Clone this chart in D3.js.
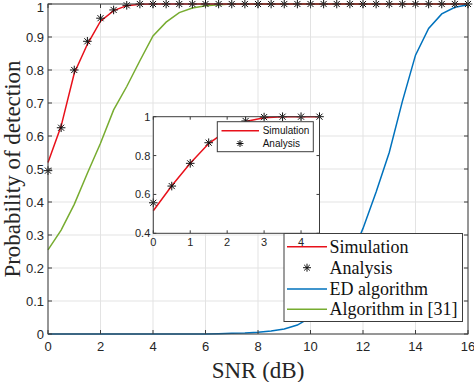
<!DOCTYPE html>
<html>
<head>
<meta charset="utf-8">
<script src="https://cdn.jsdelivr.net/npm/d3@7"></script>
<style>
  body { margin: 0; background: #fff; }
  svg { display: block; }
</style>
</head>
<body>
<svg id="chart" width="474" height="382"></svg>
<script>
// SNR grid (dB), step 0.5 from 0 to 16
const snr = d3.range(0, 16.01, 0.5);

// Simulation (red) on the main axes
const simValues = [0.52, 0.63, 0.79, 0.878, 0.948, 0.98, 0.995, 0.999, 1, 1, 1, 1, 1, 1, 1, 1, 1,
  1, 1, 1, 1, 1, 1, 1, 1, 1, 1, 1, 1, 1, 1, 1, 1];
// Analysis (stars) on the main axes
const anaValues = [0.495, 0.625, 0.8, 0.887, 0.957, 0.982, 0.996, 1, 1, 1, 1, 1, 1, 1, 1, 1, 1,
  1, 1, 1, 1, 1, 1, 1, 1, 1, 1, 1, 1, 1, 1, 1, 1];
// ED algorithm (blue)
const edValues = [0, 0, 0, 0, 0, 0, 0, 0, 0, 0, 0, 0, 0, 0.001, 0.002, 0.003, 0.005,
  0.009, 0.015, 0.027, 0.05, 0.09, 0.15, 0.225, 0.32, 0.43, 0.55, 0.705, 0.845, 0.926, 0.97, 0.99, 0.998];
// Algorithm in [31] (green)
const refValues = [0.255, 0.315, 0.393, 0.487, 0.578, 0.679, 0.75, 0.828, 0.903, 0.945, 0.974, 0.988, 0.995, 0.998, 1, 1, 1,
  1, 1, 1, 1, 1, 1, 1, 1, 1, 1, 1, 1, 1, 1, 1, 1];

// inset (zoom on 0..4.5 dB)
const insetSnr = [0, 0.5, 1, 1.5, 2, 2.5, 3, 3.5, 4, 4.5];
const insetSim = [0.516, 0.645, 0.76, 0.862, 0.93, 0.975, 0.995, 1, 1, 1];
const insetAna = [0.557, 0.643, 0.76, 0.866, 0.935, 0.978, 0.998, 1, 1, 1];

const xTicks = [0, 2, 4, 6, 8, 10, 12, 14, 16];
const yTicks = d3.range(0, 1.001, 0.1);
const insetXTicks = [0, 1, 2, 3, 4];
const insetYTicks = [0.4, 0.6, 0.8, 1];

const legendLabels = ["Simulation", "Analysis", "ED algorithm", "Algorithm in [31]"];
const colors = { sim: "#e8101a", ed: "#0072bd", ref: "#77ac30" };
const axisColor = "#3c3c3c";

const svg = d3.select("#chart");

function starPath(r) {
  const d = r * Math.SQRT1_2;
  return `M${-r},0L${r},0M0,${-r}L0,${r}M${-d},${-d}L${d},${d}M${-d},${d}L${d},${-d}`;
}

function drawGrid(g, x, y, xt, yt) {
  const [x0, x1] = x.range();
  const [y0, y1] = y.range();
  g.append("g").selectAll("line").data(xt).join("line")
    .attr("x1", d => x(d)).attr("x2", d => x(d))
    .attr("y1", y0).attr("y2", y1)
    .attr("stroke", "#e3e3e3").attr("stroke-width", 1);
  g.append("g").selectAll("line").data(yt).join("line")
    .attr("x1", x0).attr("x2", x1)
    .attr("y1", d => y(d)).attr("y2", d => y(d))
    .attr("stroke", "#e3e3e3").attr("stroke-width", 1);
}

function drawFrame(g, x, y, xt, yt, fmtY, fontSize, tickLen, labelGap, xLabelDy, minLabelY) {
  const [x0, x1] = x.range();
  const [y0, y1] = y.range();
  const ticks = g.append("g").attr("stroke", axisColor).attr("stroke-width", 1);
  xt.forEach(t => {
    ticks.append("line").attr("x1", x(t)).attr("x2", x(t)).attr("y1", y0).attr("y2", y0 - tickLen);
    ticks.append("line").attr("x1", x(t)).attr("x2", x(t)).attr("y1", y1).attr("y2", y1 + tickLen);
  });
  yt.forEach(t => {
    ticks.append("line").attr("x1", x0).attr("x2", x0 + tickLen).attr("y1", y(t)).attr("y2", y(t));
    ticks.append("line").attr("x1", x1).attr("x2", x1 - tickLen).attr("y1", y(t)).attr("y2", y(t));
  });
  g.append("rect")
    .attr("x", x0).attr("y", y1).attr("width", x1 - x0).attr("height", y0 - y1)
    .attr("fill", "none").attr("stroke", axisColor).attr("stroke-width", 1);
  g.append("g").selectAll("text").data(xt).join("text")
    .attr("x", d => x(d)).attr("y", y0 + xLabelDy)
    .attr("text-anchor", "middle")
    .attr("font-family", "Liberation Sans, Arial, sans-serif")
    .attr("font-size", fontSize).attr("fill", "#262626")
    .text(d => d);
  g.append("g").selectAll("text").data(yt).join("text")
    .attr("x", x0 - labelGap).attr("y", d => Math.max(y(d), minLabelY || 0))
    .attr("dy", "0.36em")
    .attr("text-anchor", "end")
    .attr("font-family", "Liberation Sans, Arial, sans-serif")
    .attr("font-size", fontSize).attr("fill", "#262626")
    .text(fmtY);
}

const fmt = d => +d.toFixed(1) + "";

// ---------- main axes ----------
const x = d3.scaleLinear().domain([0, 16]).range([48, 468]);
const y = d3.scaleLinear().domain([0, 1]).range([334, 4]);
const main = svg.append("g");
drawGrid(main, x, y, xTicks, yTicks);

const line = d3.line().x(d => x(d[0])).y(d => y(d[1]));
main.append("path").datum(d3.zip(snr, refValues)).attr("d", line)
  .attr("fill", "none").attr("stroke", colors.ref).attr("stroke-width", 1.5);
main.append("path").datum(d3.zip(snr, edValues)).attr("d", line)
  .attr("fill", "none").attr("stroke", colors.ed).attr("stroke-width", 1.5);
main.append("path").datum(d3.zip(snr, simValues)).attr("d", line)
  .attr("fill", "none").attr("stroke", colors.sim).attr("stroke-width", 1.5);
main.append("g").selectAll("path").data(d3.zip(snr, anaValues)).join("path")
  .attr("transform", d => `translate(${x(d[0])},${y(d[1])})`)
  .attr("d", starPath(4.3))
  .attr("stroke", "#111").attr("stroke-width", 1).attr("fill", "none");

// keep the top "1" label just inside the picture
drawFrame(main, x, y, xTicks, yTicks, fmt, 13, 4, 4, 17, 7.5);

// axis titles
svg.append("text")
  .attr("x", 258).attr("y", 378)
  .attr("text-anchor", "middle")
  .attr("font-family", "Liberation Serif, Times New Roman, serif")
  .attr("font-size", 23).attr("fill", "#262626")
  .text("SNR (dB)");
svg.append("text")
  .attr("transform", "translate(20,169) rotate(-90)")
  .attr("text-anchor", "middle")
  .attr("font-family", "Liberation Serif, Times New Roman, serif")
  .attr("font-size", 23).attr("fill", "#262626")
  .text("Probability of detection");

// ---------- main legend ----------
const leg = svg.append("g");
leg.append("rect").attr("x", 284).attr("y", 233.5).attr("width", 178.5).attr("height", 88)
  .attr("fill", "#fff").attr("stroke", axisColor).attr("stroke-width", 1);
const legY = [246.7, 267.7, 289, 309.3];
const legStroke = [colors.sim, null, colors.ed, colors.ref];
legendLabels.forEach((lab, i) => {
  if (legStroke[i]) {
    leg.append("line").attr("x1", 287).attr("x2", 327).attr("y1", legY[i]).attr("y2", legY[i])
      .attr("stroke", legStroke[i]).attr("stroke-width", 1.5);
  } else {
    leg.append("path").attr("transform", `translate(307,${legY[i]})`).attr("d", starPath(4))
      .attr("stroke", "#111").attr("stroke-width", 1).attr("fill", "none");
  }
  leg.append("text").attr("x", 329.5).attr("y", legY[i]).attr("dy", "0.33em")
    .attr("font-family", "Liberation Serif, Times New Roman, serif")
    .attr("font-size", 18).attr("fill", "#111")
    .text(lab);
});

// ---------- inset ----------
const xi = d3.scaleLinear().domain([0, 4.5]).range([153.3, 319.5]);
const yi = d3.scaleLinear().domain([0.4, 1]).range([233.3, 116.7]);
const inset = svg.append("g");
inset.append("rect").attr("x", 153.3).attr("y", 116.7).attr("width", 166.2).attr("height", 116.6)
  .attr("fill", "#fff");
const lineI = d3.line().x(d => xi(d[0])).y(d => yi(d[1]));
inset.append("path").datum(d3.zip(insetSnr, insetSim)).attr("d", lineI)
  .attr("fill", "none").attr("stroke", colors.sim).attr("stroke-width", 1.5);
inset.append("g").selectAll("path").data(d3.zip(insetSnr, insetAna)).join("path")
  .attr("transform", d => `translate(${xi(d[0])},${yi(d[1])})`)
  .attr("d", starPath(4.3))
  .attr("stroke", "#111").attr("stroke-width", 1).attr("fill", "none");

// inset legend
const li = inset.append("g");
li.append("rect").attr("x", 217.3).attr("y", 121.7).attr("width", 96).attr("height", 30)
  .attr("fill", "#fff").attr("stroke", axisColor).attr("stroke-width", 1);
li.append("line").attr("x1", 221.5).attr("x2", 259).attr("y1", 130.7).attr("y2", 130.7)
  .attr("stroke", colors.sim).attr("stroke-width", 1.5);
li.append("path").attr("transform", "translate(240,143.5)").attr("d", starPath(3.5))
  .attr("stroke", "#111").attr("stroke-width", 1).attr("fill", "none");
li.selectAll("text").data(legendLabels.slice(0, 2)).join("text")
  .attr("x", 262.7).attr("y", (d, i) => i === 0 ? 130.7 : 143.7).attr("dy", "0.36em")
  .attr("font-family", "Liberation Sans, Arial, sans-serif")
  .attr("font-size", 10).attr("fill", "#111")
  .text(d => d);

drawFrame(inset, xi, yi, insetXTicks, insetYTicks, d => d + "", 11, 3, 3, 13);
</script>
</body>
</html>
